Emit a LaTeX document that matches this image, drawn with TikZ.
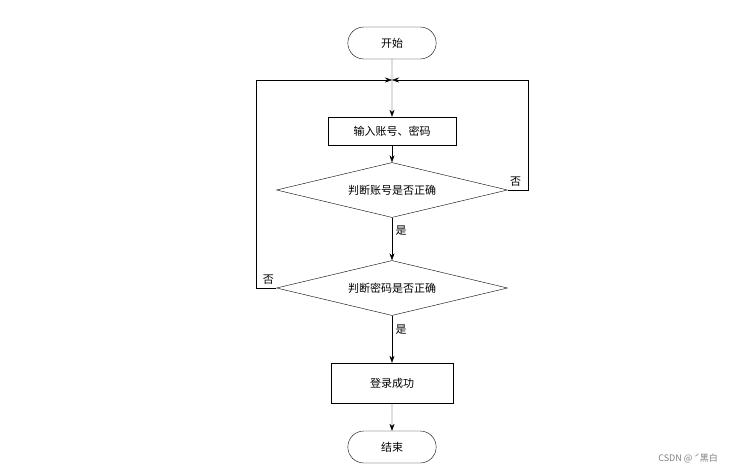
\documentclass[tikz,border=0pt]{standalone}
\usepackage{fontspec}
\setmainfont{Noto Sans CJK SC}
\usetikzlibrary{positioning,shapes.geometric,shapes.misc,arrows.meta}

\begin{document}
\begin{tikzpicture}[x=1pt,y=-1pt,on grid,auto,font=\fontsize{11}{13}\selectfont,
        >={Stealth[length=7pt,width=5pt]},
        term/.style={draw,rounded rectangle,minimum width=95pt,minimum height=32pt},
        proc/.style={draw,rectangle,minimum width=122pt,minimum height=40pt},
        test/.style={draw,diamond,aspect=4.2,minimum width=231pt,minimum height=55pt,inner sep=0pt}]
        \useasboundingbox (0,0) rectangle (745,474);
        \node[term] (start) at (392,43) {开始};
        \node[draw,minimum width=128pt,minimum height=28pt] (input) [below=88pt of start] {输入账号、密码};
        \node[test] (user) [below=59pt of input] {判断账号是否正确};
        \node[test] (pass) [below=98pt of user] {判断密码是否正确};
        \node[proc] (ok) [below=95pt of pass] {登录成功};
        \node[term] (stop) [below=64pt of ok] {结束};
        \coordinate (merge) at (392,80);
        \draw[->] (start) -- (input);
        \draw[->] (input) -- (user);
        \draw[->] (user) -- node[right,pos=0.3] {是} (pass);
        \draw[->] (pass) -- node[right,pos=0.3] {是} (ok);
        \draw[->] (ok) -- (stop);
        \draw[->] (user.east) -- node[above,pos=0.4] {否} ++(20,0) |- (merge);
        \draw[->] (pass.west) -- node[above,pos=0.4] {否} ++(-20,0) |- (merge);
        \node[text=gray,font=\fontsize{9}{11}\selectfont] (mark) at (688,458) {CSDN @ ˊ黑白};
    \end{tikzpicture}
\end{document}
